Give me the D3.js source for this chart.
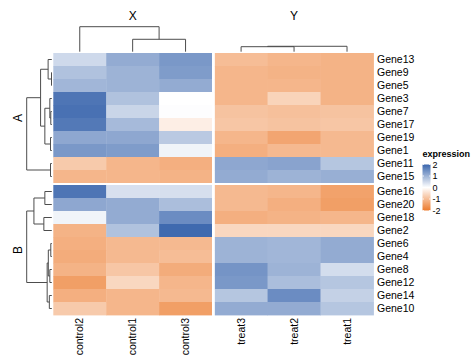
<!DOCTYPE html>
<html>
<head>
<meta charset="utf-8">
<script src="https://cdn.jsdelivr.net/npm/d3@7"></script>
<style>
  body { margin: 0; background: #fff; }
  text { font-family: "Liberation Sans", Arial, sans-serif; fill: #000; }
</style>
</head>
<body>
<div id="chart"></div>
<script>
// column groups and row slices
var colsX = ['control2', 'control1', 'control3'];
var colsY = ['treat3', 'treat2', 'treat1'];
var rowsA = ['Gene13', 'Gene9', 'Gene5', 'Gene3', 'Gene7', 'Gene17', 'Gene19', 'Gene1', 'Gene11', 'Gene15'];
var rowsB = ['Gene16', 'Gene20', 'Gene18', 'Gene2', 'Gene6', 'Gene4', 'Gene8', 'Gene12', 'Gene14', 'Gene10'];

// expression, columns: control2 control1 control3 treat3 treat2 treat1
var exprA = [
  [0.5, 1.1, 1.35, -1.0, -1.1, -1.15],
  [0.8, 1.0, 1.3, -1.1, -1.15, -1.15],
  [0.95, 1.0, 1.1, -1.1, -1.1, -1.15],
  [1.8, 0.8, 0.0, -1.1, -0.65, -1.15],
  [1.85, 0.55, 0.02, -0.9, -0.95, -0.9],
  [1.75, 0.9, -0.25, -0.85, -0.9, -0.85],
  [1.15, 1.15, 0.7, -1.1, -1.35, -1.05],
  [1.35, 1.3, 0.15, -1.2, -1.05, -1.05],
  [-0.8, -1.1, -1.2, 1.15, 1.2, 0.75],
  [-1.1, -1.1, -1.15, 1.1, 1.0, 1.05]
];
var exprB = [
  [1.8, 0.4, 0.42, -1.05, -1.1, -1.4],
  [1.15, 1.1, 0.85, -1.05, -1.2, -1.45],
  [0.15, 1.1, 1.5, -1.2, -1.15, -1.1],
  [-1.15, 0.8, 1.95, -0.6, -0.6, -0.6],
  [-1.2, -1.05, -1.05, 1.0, 0.95, 1.1],
  [-1.25, -1.05, -1.0, 1.0, 0.95, 1.1],
  [-1.15, -0.85, -1.25, 1.4, 1.0, 0.45],
  [-1.45, -0.6, -1.1, 1.35, 0.85, 0.75],
  [-1.2, -1.1, -1.05, 0.75, 1.5, 0.6],
  [-0.8, -1.1, -1.45, 1.1, 1.1, 0.75]
];

// dendrograms: [left, right, height], leaves are indices into the slice
var dendA = [[0, [1, 2, 0.07], 0.88], [[3, [4, 5, 0.24], 0.47], [6, 7, 0.31], 1.66], 2.68];
dendA = [dendA, [8, 9, 0.31], 6.0];
var dendB = [[[0, 1, 1.66], [2, 3, 1.9], 4.27], [[[4, 5, 0.24], [6, 7, 0.47], 0.83], [8, 9, 0.59], 1.11], 6.0];
var dendX = [0, [1, 2, 2.98], 6.0];
var dendY = [[0, 1, 1.2], 2, 1.3];

var legendBreaks = [2, 1, 0, -1, -2];

var width = 474, height = 363;

var svg = d3.select('#chart').append('svg')
  .attr('width', width)
  .attr('height', height);

var color = d3.scaleLinear()
  .domain([-2, 0, 2])
  .range(['#ec7a2c', '#ffffff', '#3a66ad'])
  .interpolate(d3.interpolateRgb)
  .clamp(true);

// band scales for the slices
var xX = d3.scaleBand().domain(colsX).range([53.3, 212]);
var xY = d3.scaleBand().domain(colsY).range([214.6, 373.5]);
var yA = d3.scaleBand().domain(rowsA).range([53, 183]);
var yB = d3.scaleBand().domain(rowsB).range([185, 315]);

var colSlices = [{ cols: colsX, x: xX, off: 0 }, { cols: colsY, x: xY, off: 3 }];
var rowSlices = [{ rows: rowsA, y: yA, vals: exprA, dend: dendA, label: 'A' },
                 { rows: rowsB, y: yB, vals: exprB, dend: dendB, label: 'B' }];

// Cells
rowSlices.forEach(function(rs) {
  colSlices.forEach(function(cs) {
    var cells = [];
    rs.rows.forEach(function(r, i) {
      cs.cols.forEach(function(c, j) {
        cells.push({ r: r, c: c, v: rs.vals[i][j + cs.off] });
      });
    });
    svg.append('g').selectAll('rect')
      .data(cells)
      .enter().append('rect')
      .attr('x', function(d) { return cs.x(d.c); })
      .attr('y', function(d) { return rs.y(d.r); })
      .attr('width', cs.x.bandwidth() + 0.4)
      .attr('height', rs.y.bandwidth() + 0.4)
      .attr('fill', function(d) { return color(d.v); });
  });
});

// re-cover the slice gaps in white
svg.append('rect').attr('x', 212).attr('y', 50).attr('width', 2.6).attr('height', 270).attr('fill', '#fff');
svg.append('rect').attr('x', 50).attr('y', 183).attr('width', 330).attr('height', 2).attr('fill', '#fff');

// Dendrogram helper: returns {p, h} and pushes elbow paths
function walk(node, leafPos, paths) {
  if (typeof node === 'number') return { p: leafPos(node), h: 0 };
  var a = walk(node[0], leafPos, paths);
  var b = walk(node[1], leafPos, paths);
  var h = node[2];
  paths.push([a, b, h]);
  return { p: (a.p + b.p) / 2, h: h };
}

var dendStroke = '#4d4d4d';

// Row dendrograms
var hx = d3.scaleLinear().domain([0, 6]).range([51.8, 26.7]);
rowSlices.forEach(function(rs) {
  var paths = [];
  walk(rs.dend, function(i) { return rs.y(rs.rows[i]) + rs.y.bandwidth() / 2; }, paths);
  svg.append('g').selectAll('path')
    .data(paths)
    .enter().append('path')
    .attr('d', function(d) {
      return 'M' + hx(d[0].h) + ',' + d[0].p + 'H' + hx(d[2]) + 'V' + d[1].p + 'H' + hx(d[1].h);
    })
    .attr('fill', 'none')
    .attr('stroke', dendStroke)
    .attr('stroke-width', 1);

  // slice title
  var mid = (rs.y.range()[0] + rs.y.range()[1]) / 2;
  svg.append('text')
    .attr('transform', 'translate(21.5,' + mid + ') rotate(-90)')
    .attr('text-anchor', 'middle')
    .style('font-size', '12px')
    .text(rs.label);

  // gene labels
  svg.append('g').selectAll('text')
    .data(rs.rows)
    .enter().append('text')
    .attr('x', 377)
    .attr('y', function(d) { return rs.y(d) + rs.y.bandwidth() / 2; })
    .attr('dy', '0.35em')
    .style('font-size', '10.5px')
    .text(function(d) { return d; });
});

// Column dendrograms
var hy = d3.scaleLinear().domain([0, 6]).range([51.7, 26.7]);
[{ cs: colSlices[0], dend: dendX, label: 'X' }, { cs: colSlices[1], dend: dendY, label: 'Y' }].forEach(function(cd) {
  var sx = cd.cs.x;
  var paths = [];
  walk(cd.dend, function(i) { return sx(cd.cs.cols[i]) + sx.bandwidth() / 2; }, paths);
  svg.append('g').selectAll('path')
    .data(paths)
    .enter().append('path')
    .attr('d', function(d) {
      return 'M' + d[0].p + ',' + hy(d[0].h) + 'V' + hy(d[2]) + 'H' + d[1].p + 'V' + hy(d[1].h);
    })
    .attr('fill', 'none')
    .attr('stroke', dendStroke)
    .attr('stroke-width', 1);

  var mid = (sx.range()[0] + sx.range()[1]) / 2;
  svg.append('text')
    .attr('x', mid)
    .attr('y', 20)
    .attr('text-anchor', 'middle')
    .style('font-size', '12px')
    .text(cd.label);

  // column labels
  svg.append('g').selectAll('text')
    .data(cd.cs.cols)
    .enter().append('text')
    .attr('transform', function(d) {
      return 'translate(' + (sx(d) + sx.bandwidth() / 2) + ',318) rotate(-90)';
    })
    .attr('text-anchor', 'end')
    .attr('dy', '0.35em')
    .style('font-size', '10.5px')
    .text(function(d) { return d; });
});

// Legend
var legX = 422.5, legW = 8;
var ly = d3.scaleLinear().domain([2, -2]).range([164.5, 210.5]);

svg.append('text')
  .attr('x', legX)
  .attr('y', 157)
  .style('font-size', '9px')
  .style('font-weight', 'bold')
  .text('expression');

var grad = svg.append('defs').append('linearGradient')
  .attr('id', 'legGrad')
  .attr('x1', 0).attr('y1', 0).attr('x2', 0).attr('y2', 1);
d3.range(0, 1.0001, 0.05).forEach(function(t) {
  grad.append('stop')
    .attr('offset', t)
    .attr('stop-color', color(2 - 4 * t));
});

svg.append('rect')
  .attr('x', legX)
  .attr('y', ly(2))
  .attr('width', legW)
  .attr('height', ly(-2) - ly(2))
  .attr('fill', 'url(#legGrad)');

var legTicks = svg.append('g');
legTicks.selectAll('line.l')
  .data(legendBreaks)
  .enter().append('line')
  .attr('x1', legX).attr('x2', legX + 1.5)
  .attr('y1', function(d) { return ly(d); })
  .attr('y2', function(d) { return ly(d); })
  .attr('stroke', '#fff').attr('stroke-width', 0.8);
legTicks.selectAll('line.r')
  .data(legendBreaks)
  .enter().append('line')
  .attr('x1', legX + legW - 1.5).attr('x2', legX + legW)
  .attr('y1', function(d) { return ly(d); })
  .attr('y2', function(d) { return ly(d); })
  .attr('stroke', '#fff').attr('stroke-width', 0.8);

legTicks.selectAll('text')
  .data(legendBreaks)
  .enter().append('text')
  .attr('x', legX + legW + 2)
  .attr('y', function(d) { return ly(d); })
  .attr('dy', '0.35em')
  .style('font-size', '9px')
  .text(function(d) { return d; });
</script>
</body>
</html>
